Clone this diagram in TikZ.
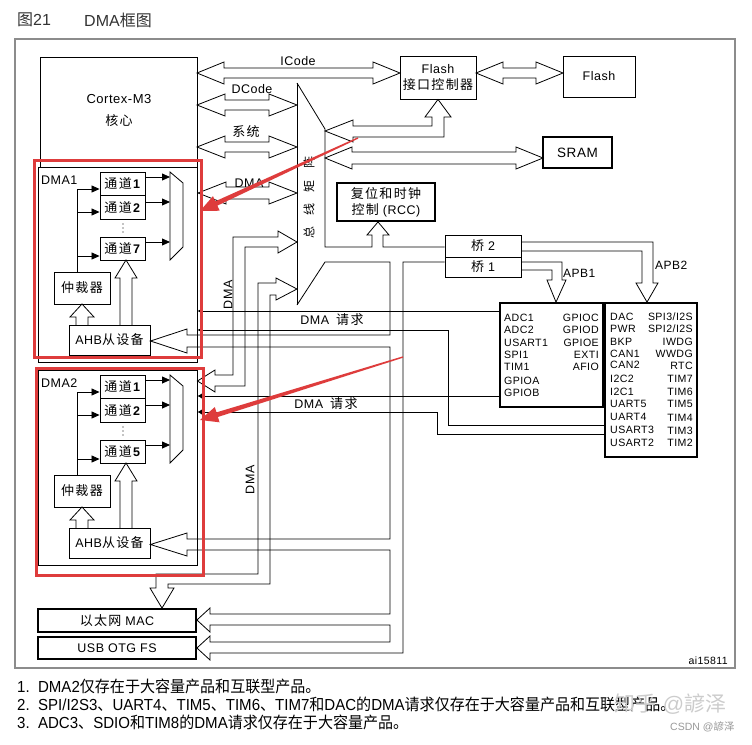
\documentclass[tikz,border=0pt]{standalone}
\usepackage{graphicx}
\usepackage{fontspec}
\setmainfont{Liberation Sans}[LetterSpace=4]
\newfontfamily\lsn{Liberation Sans}
\newfontfamily\cjk{Noto Sans CJK SC}[LetterSpace=10]
\newfontfamily\cjkn{Noto Sans CJK SC}
\usetikzlibrary{arrows.meta,calc}
\definecolor{redm}{HTML}{DE3C3C}
\definecolor{framec}{HTML}{8C8C8C}
\newcommand\C[1]{{\cjk\fontsize{13}{16}\selectfont #1}}
\newcommand\F[1]{{\cjkn #1}}
\newcommand\bx[7][]{\node[box,minimum width={#5-#3},minimum height={#6-#4},#1] (#2) at ({(#3+#5)/2},{(#4+#6)/2}) {#7};}
\newcommand\dbl[6]{\draw[ln] (#1,#3) -- ({#1+#4},{#3-#5}) -- ({#1+#4},{#3-#6}) -- ({#2-#4},{#3-#6}) -- ({#2-#4},{#3-#5}) -- (#2,#3) -- ({#2-#4},{#3+#5}) -- ({#2-#4},{#3+#6}) -- ({#1+#4},{#3+#6}) -- ({#1+#4},{#3+#5}) -- cycle;}
\newcommand\redarr[4]{%
 \coordinate (rs) at (#1,#2); \coordinate (rt) at (#3,#4);
 \coordinate (rb) at ($(rt)!18pt!(rs)$);
 \fill[redm] ($(rs)!0.7pt!90:(rt)$) -- ($(rb)!2.4pt!90:(rt)$) -- ($(rb)!8pt!90:(rt)$) -- (rt) -- ($(rb)!8pt!-90:(rt)$) -- ($(rb)!2.4pt!-90:(rt)$) -- ($(rs)!0.7pt!-90:(rt)$) -- cycle;}
\newcommand\dmablk[4]{%
\begin{scope}[shift={(0,#2)}]
 \bx{#1box}{38}{167}{197}{362}{}
 \node[lab,anchor=west,inner sep=0pt] (#1lab) at (41,180) {#4};
 \bx{#1c1}{100}{172}{145}{195.5}{\C{通道}\textbf{1}}
 \bx{#1c2}{100}{195.5}{145}{219}{\C{通道}\textbf{2}}
 \bx{#1cn}{100}{237}{145}{260}{\C{通道}\textbf{#3}}
 \foreach \yy in {224,228,232} \fill (123,\yy) circle (0.6pt);
 \draw[ln] (170,172) -- (183,183) -- (183,247) -- (170,260) -- cycle;
 \draw[tri] (#1c1.east|-0,177) -- (170,177);
 \draw[tri] (#1c2.east|-0,202) -- (170,202);
 \draw[tri] (#1cn.east|-0,242) -- (170,242);
 \bx{#1arb}{54}{272}{110}{304}{\C{仲裁器}}
 \bx{#1ahb}{69}{325}{150}{355}{AHB\C{从设备}}
 \draw[ln] (#1arb.north -| 77,0) -- (77,189);
 \draw[tri] (77,189) -- (#1c1.west|-0,189);
 \draw[tri] (77,212) -- (#1c2.west|-0,212);
 \draw[tri] (77,256) -- (#1cn.west|-0,256);
 \draw[ln] (76,325) -- (76,317) -- (70,317) -- (82,304) -- (94,317) -- (88,317) -- (88,325);
 \draw[ln] (120,325) -- (120,278) -- (115,278) -- (126,260) -- (137,278) -- (132,278) -- (132,325);
\end{scope}}
\begin{document}
\begin{tikzpicture}[x=1pt,y=-1pt,line join=miter,
  box/.style={draw,line width=0.9pt,inner sep=0pt,align=center,font=\fontsize{12.5}{16}\selectfont},
  tbox/.style={box,line width=1.8pt},
  ln/.style={draw,line width=0.8pt},
  tri/.style={line width=0.8pt,-{Triangle[length=8pt,width=7pt]}},
  req/.style={line width=0.9pt,-{Latex[length=5pt,width=6pt]}},
  lab/.style={font=\fontsize{12.5}{15}\selectfont},
  small/.style={font=\fontsize{10.6}{12}\selectfont,inner sep=0pt},
]
\fill[white] (0,0) rectangle (752,744);
\useasboundingbox (0,0) rectangle (752,744);
% title
\node[anchor=west,inner sep=0pt,text=black!80] (t1) at (17,20) {\fontsize{16}{18}\selectfont\F{图}\lsn 21};
\node[anchor=west,inner sep=0pt,text=black!80] (t2) at (84,20) {\fontsize{16}{18}\selectfont\lsn DMA\F{框图}};
% outer frame
\draw[framec,line width=1.3pt] (15,39) rectangle (735,668);
% boxes
\bx{cortex}{40}{57}{197}{167}{}
\node[lab,font=\fontsize{13}{15}\selectfont] (cm3) at (119,99) {Cortex-M3};
\node[lab] (core) at (119,121) {\C{核心}};
\bx{fif}{400}{56}{476}{99}{Flash\\\C{接口控制器}}
\bx{flash}{563}{56}{635}{97}{Flash}
\bx[tbox,font=\fontsize{13.5}{16}\selectfont]{sram}{543}{137}{612}{168}{SRAM}
\bx[tbox]{rcc}{337}{183}{435}{221}{\C{复位和时钟}\\\C{控制} (RCC)}
\bx{br2}{445}{235}{521}{257}{\C{桥} 2}
\bx{br1}{445}{257}{521}{277}{\C{桥} 1}
\bx[tbox]{apb1}{500}{303}{603}{407}{}
\bx[tbox]{apb2}{605}{303}{697}{457}{}
\bx[tbox]{eth}{38}{609}{196}{632}{\C{以太网} MAC}
\bx[tbox]{usb}{38}{637}{196}{659}{USB OTG FS}
% DMA blocks
\dmablk{da}{0}{7}{DMA1}
\dmablk{db}{203}{5}{DMA2}
% buses from Cortex
\dbl{197}{400}{73}{27}{11}{5}
\dbl{197}{297}{105}{28}{11}{5}
\dbl{197}{297}{147}{28}{11}{5}
\dbl{198}{297}{193}{28}{11}{6}
\dbl{476}{563}{73}{27}{11}{5}
\dbl{325}{543}{158}{27}{11}{6}
\node[lab] (licode) at (298,61) {ICode};
\node[lab] (ldcode) at (252,89) {DCode};
\node[lab] (lsys) at (246,132) {\C{系统}};
\node[lab] (ldma) at (249,183) {DMA};
% bus matrix
\draw[ln] (297,83) -- (297,305);
\draw[ln] (297,83) -- (325,129) -- (325,247) -- (372,247) -- (372,235) -- (367,235) -- (rcc.south -| 378,0) -- (389,235) -- (383,235) -- (383,247) -- (br2.west|-0,247);
\draw[ln] (297,305) -- (325,262) -- (390,262) -- (390,335) -- (187,335) -- (187,329) -- (daahb.east|-0,341) -- (187,353) -- (187,347) -- (390,347) -- (390,539) -- (187,539) -- (187,533) -- (dbahb.east|-0,544.5) -- (187,556) -- (187,550) -- (390,550) -- (390,614) -- (210,614) -- (210,608) -- (eth.east|-0,620) -- (210,632) -- (210,625) -- (390,625) -- (390,642) -- (210,642) -- (210,636) -- (usb.east|-0,648) -- (210,660) -- (210,653) -- (403,653) -- (403,262) -- (br1.west|-0,262);
\node[rotate=90,font=\fontsize{12}{12}\selectfont\cjkn] (bm1) at (309,232) {总};
\node[rotate=90,font=\fontsize{12}{12}\selectfont\cjkn] (bm2) at (309,209) {线};
\node[rotate=90,font=\fontsize{12}{12}\selectfont\cjkn] (bm3) at (309,186) {矩};
\node[rotate=90,font=\fontsize{12}{12}\selectfont\cjkn] (bm4) at (309,162) {阵};
% flash interface bus
\draw[ln] (325,131) -- (353,120) -- (353,126) -- (432,126) -- (432,117) -- (425,117) -- (fif.south -| 438,0) -- (451,117) -- (444,117) -- (444,137) -- (353,137) -- (353,142) -- cycle;
% DMA2 master bus
\draw[ln] (297,242) -- (278,231) -- (278,237) -- (233,237) -- (233,375) -- (215,375) -- (215,370) -- (dbbox.east|-0,381) -- (215,392) -- (215,386) -- (245,386) -- (245,247) -- (278,247) -- (278,253) -- cycle;
% Ethernet master bus
\draw[ln] (297,289) -- (276,278) -- (276,283) -- (258,283) -- (258,574) -- (156,574) -- (156,588) -- (150,588) -- (eth.north -| 162,0) -- (174,588) -- (168,588) -- (168,584) -- (270,584) -- (270,295) -- (276,295) -- (276,300) -- cycle;
\node[lab,rotate=90] (ldma2) at (228,295) {DMA};
\node[lab,rotate=90] (ldma3) at (250,480) {DMA};
% APB
\draw[ln] (br1.east|-0,262) -- (562,262) -- (562,280) -- (566,280) -- (apb1.north -| 556,0) -- (547,280) -- (552,280) -- (552,270) -- (br1.east|-0,270);
\draw[ln] (br2.east|-0,242) -- (653,242) -- (653,283) -- (658,283) -- (apb2.north -| 647,0) -- (636,283) -- (642,283) -- (642,251) -- (br2.east|-0,251);
\node[lab,anchor=west,inner sep=0pt,font=\fontsize{12}{14}\selectfont] (lapb1) at (563,273) {APB1};
\node[lab,anchor=west,inner sep=0pt,font=\fontsize{12}{14}\selectfont] (lapb2) at (655,265) {APB2};
\foreach \yy/\t in {318/ADC1,330/ADC2,343/USART1,355/SPI1,367/TIM1,381/GPIOA,393/GPIOB} \node[small,anchor=west] at (504,\yy) {\t};
\foreach \yy/\t in {318/GPIOC,330/GPIOD,343/GPIOE,355/EXTI,367/AFIO} \node[small,anchor=east] at (599,\yy) {\t};
\foreach \yy/\t in {317/DAC,329/PWR,342/BKP,354/CAN1,365/CAN2,379/I2C2,392/I2C1,404/UART5,417/UART4,430/USART3,443/USART2} \node[small,anchor=west] at (610,\yy) {\t};
\foreach \yy/\t in {317/{SPI3/I2S},329/{SPI2/I2S},342/IWDG,354/WWDG,366/RTC,379/TIM7,392/TIM6,404/TIM5,418/TIM4,431/TIM3,443/TIM2} \node[small,anchor=east] at (693,\yy) {\t};
% DMA requests
\draw[req] (apb1.west|-0,311) -- (dabox.east|-0,311);
\draw[req] (apb2.west|-0,425) -- (448,425) -- (448,330) -- (dabox.east|-0,330);
\draw[req] (apb1.west|-0,396) -- (dbbox.east|-0,396);
\draw[req] (apb2.west|-0,434) -- (437,434) -- (437,412) -- (dbbox.east|-0,412);
\node[lab] (lreq1) at (332,320) {DMA\hspace{7pt}\C{请求}};
\node[lab] (lreq2) at (326,404) {DMA\hspace{7pt}\C{请求}};
\node[anchor=east,inner sep=0pt,font=\fontsize{10.5}{12}\selectfont] (ai) at (728,661) {ai15811};
% footer
\node[anchor=west,inner sep=0pt] (f1) at (17,686) {\scalebox{0.94}[1]{\fontsize{16}{18}\selectfont\lsn 1.\ \ DMA2\F{仅存在于大容量产品和互联型产品。}}};
\node[anchor=west,inner sep=0pt] (f2) at (17,704) {\scalebox{0.94}[1]{\fontsize{16}{18}\selectfont\lsn 2.\ \ SPI/I2S3\F{、}UART4\F{、}TIM5\F{、}TIM6\F{、}TIM7\F{和}DAC\F{的}DMA\F{请求仅存在于大容量产品和互联型产品。}}};
\node[anchor=west,inner sep=0pt] (f3) at (17,722) {\scalebox{0.94}[1]{\fontsize{16}{18}\selectfont\lsn 3.\ \ ADC3\F{、}SDIO\F{和}TIM8\F{的}DMA\F{请求仅存在于大容量产品。}}};
\node[anchor=west,inner sep=0pt,text=black!20] (wm) at (614,704) {\fontsize{21}{23}\selectfont\F{知乎} \lsn @\F{諺泽}};
\node[anchor=west,inner sep=0pt,text=black!40] (wm2) at (670,727) {\fontsize{10.5}{12}\selectfont\lsn CSDN @\F{諺泽}};
% red highlights
\draw[redm,line width=3pt] (34.5,160.5) rectangle (201,357);
\draw[redm,line width=3pt] (36,368) rectangle (203,575);
\redarr{358}{138}{200}{211}
\redarr{403}{357}{200}{420}
\end{tikzpicture}
\end{document}
